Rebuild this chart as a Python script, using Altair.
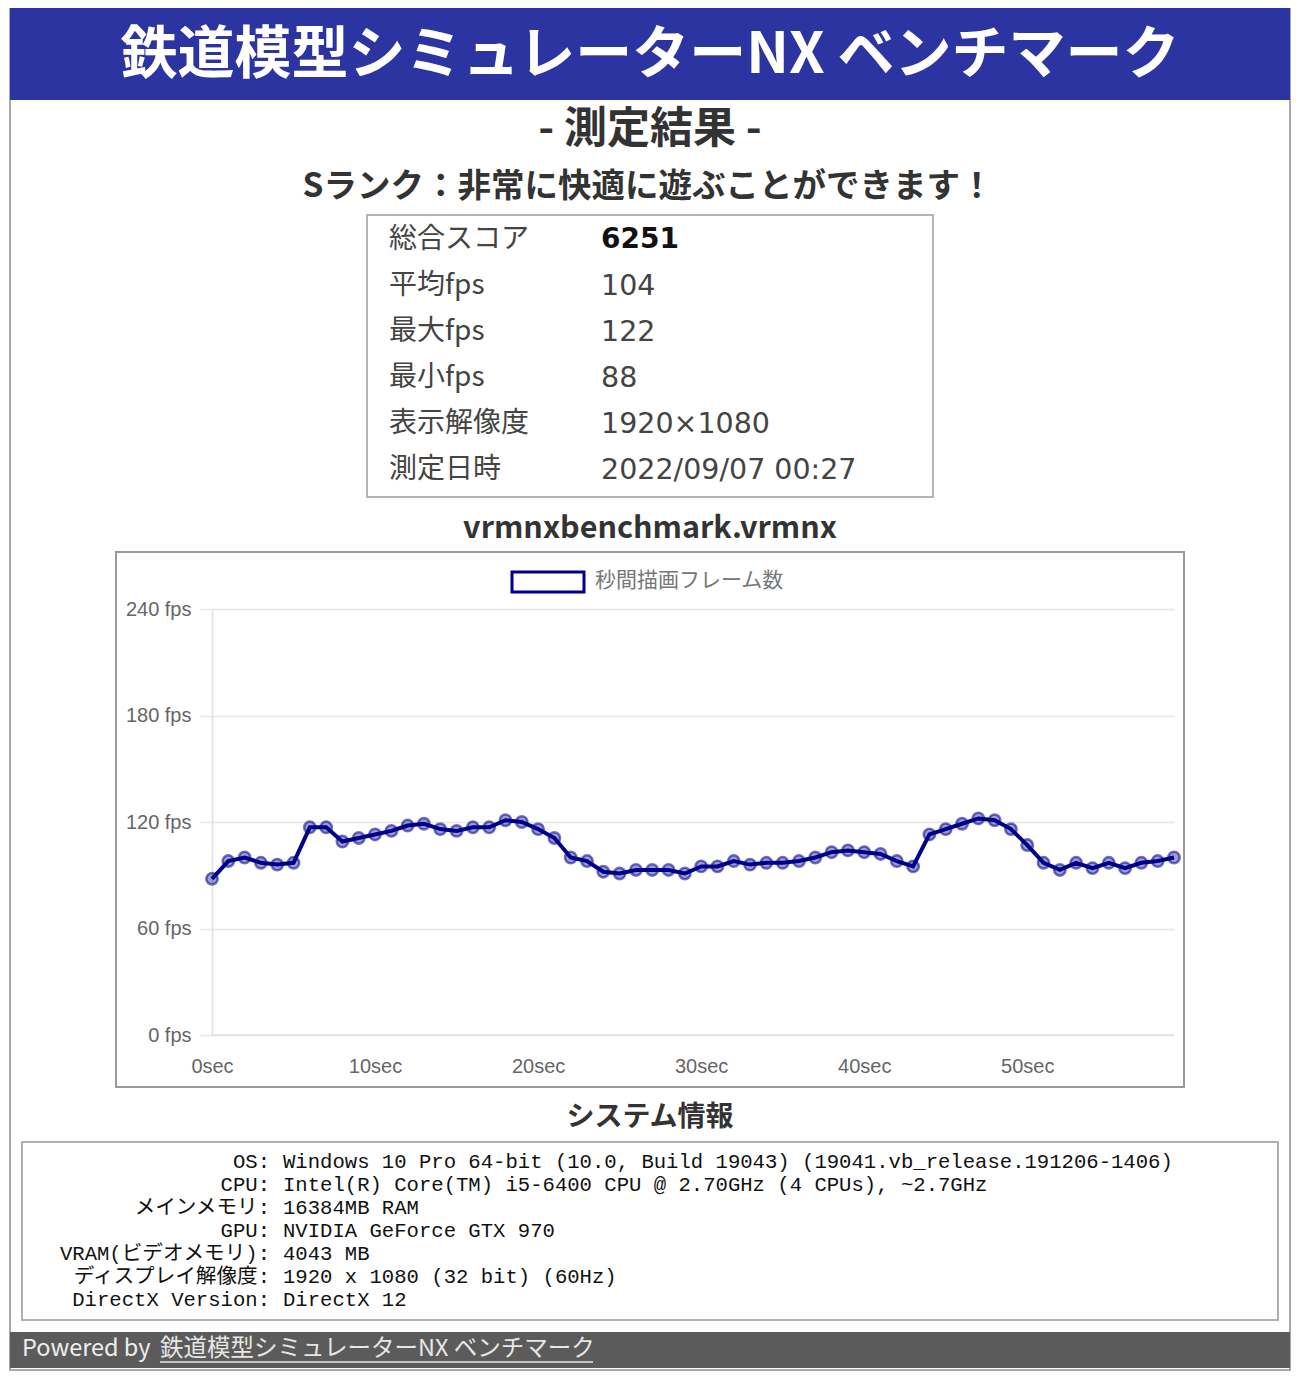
import altair as alt
import pandas as pd

# ---------------- data ----------------
seconds = list(range(60))
fps = [88, 98, 100, 97, 96, 97, 117, 117, 109, 111,
       113, 115, 118, 119, 116, 115, 117, 117, 121, 120,
       116, 111, 100, 98, 92, 91, 93, 93, 93, 91,
       95, 95, 98, 96, 97, 97, 98, 100, 103, 104,
       103, 102, 98, 95, 113, 116, 119, 122, 121, 116,
       107, 97, 93, 97, 94, 97, 94, 97, 98, 100]
y_ticks = [0, 60, 120, 180, 240]
x_ticks = [0, 10, 20, 30, 40, 50]
series_name = "秒間描画フレーム数"

page_title = "鉄道模型シミュレーターNX ベンチマーク"
sub_title = "- 測定結果 -"
rank_text = "Sランク：非常に快適に遊ぶことができます！"
score_labels = ["総合スコア", "平均fps", "最大fps", "最小fps", "表示解像度", "測定日時"]
score_values = ["6251", "104", "122", "88", "1920×1080", "2022/09/07 00:27"]
chart_title = "vrmnxbenchmark.vrmnx"
sys_title = "システム情報"
sys_labels = ["OS:", "CPU:", "メインメモリ:", "GPU:", "VRAM(ビデオメモリ):", "ディスプレイ解像度:", "DirectX Version:"]
sys_values = [
    "Windows 10 Pro 64-bit (10.0, Build 19043) (19041.vb_release.191206-1406)",
    "Intel(R) Core(TM) i5-6400 CPU @ 2.70GHz (4 CPUs), ~2.7GHz",
    "16384MB RAM",
    "NVIDIA GeForce GTX 970",
    "4043 MB",
    "1920 x 1080 (32 bit) (60Hz)",
    "DirectX 12",
]
footer_prefix = "Powered by "
footer_link = "鉄道模型シミュレーターNX ベンチマーク"

df = pd.DataFrame({"t": seconds, "fps": fps})
one = pd.DataFrame({"k": [0]})

# plot-area origin in page coordinates
OX, OY = 212, 609
PW, PH = 962, 426

JP = "Noto Sans CJK JP"
VAL = "DejaVu Sans, Noto Sans CJK JP"
LAT = "Liberation Sans"
MONO = "Liberation Mono, Noto Sans CJK JP"
BLUE = "#00008b"


def box(x1, y1, x2, y2, fill="transparent", stroke=None, sw=0):
    kw = dict(fill=fill)
    if stroke:
        kw.update(stroke=stroke, strokeWidth=sw)
    return alt.Chart(one).mark_rect(**kw).encode(
        x=alt.value(x1 - OX), x2=alt.value(x2 - OX),
        y=alt.value(y1 - OY), y2=alt.value(y2 - OY))


def txt(s, x, y, size, color="#333", weight="normal", align="left", font=JP):
    return alt.Chart(one).mark_text(
        text=s, fontSize=size, color=color, fontWeight=weight,
        align=align, baseline="middle", font=font
    ).encode(x=alt.value(x - OX), y=alt.value(y - OY))


layers = []
# panels and boxes (transparent so the axis grid stays visible)
layers.append(box(10, 8, 1290, 1370, stroke="#a8a8a8", sw=2))
layers.append(box(10, 8, 1290, 100, fill="#2b34a0"))
layers.append(box(367, 215, 933, 497, stroke="#b5b5b5", sw=2))
layers.append(box(116, 552, 1184, 1087, stroke="#9a9a9a", sw=2))
layers.append(box(22, 1142, 1278, 1320, stroke="#b0b0b0", sw=2))
layers.append(box(10, 1332, 1290, 1368, fill="#5b5b5b"))

# headings
layers.append(txt(page_title, 650, 56, 57, color="white", weight="bold", align="center"))
layers.append(txt(sub_title, 650, 130, 43, color="#333", weight="bold", align="center"))
layers.append(txt(rank_text, 648, 187, 33.5, color="#333", weight="bold", align="center"))

# score table
for i, (lab, val) in enumerate(zip(score_labels, score_values)):
    yy = 240 + 46 * i
    layers.append(txt(lab, 389, yy, 28, color="#444"))
    if i == 0:
        layers.append(txt(val, 601, yy, 28, color="#111", weight="bold", font=VAL))
    else:
        layers.append(txt(val, 601, yy, 28.5, color="#444", font=VAL))

layers.append(txt(chart_title, 650, 529, 30.5, color="#333", weight="bold", align="center"))

# legend
layers.append(box(512, 572, 584, 592, fill="white", stroke=BLUE, sw=3))
layers.append(txt(series_name, 595, 581, 21, color="#777"))

# system info
layers.append(txt(sys_title, 650, 1118, 28, color="#333", weight="bold", align="center"))
for i, (lab, val) in enumerate(zip(sys_labels, sys_values)):
    yy = 1162 + 23 * i
    layers.append(txt(lab, 270, yy, 20.6, color="#111", align="right", font=MONO))
    layers.append(txt(val, 283, yy, 20.6, color="#111", font=MONO))

# footer
layers.append(txt(footer_prefix, 22, 1349, 23.5, color="#eeeeee", font=JP))
layers.append(txt(footer_link, 160, 1349, 23.5, color="#e6e6e6", font=JP))
layers.append(alt.Chart(one).mark_rule(color="#e6e6e6", strokeWidth=1.5).encode(
    x=alt.value(160 - OX), x2=alt.value(593 - OX), y=alt.value(1362 - OY)))

# main chart
xenc = alt.X("t:Q", scale=alt.Scale(domain=[0, 59], nice=False, zero=False),
             axis=alt.Axis(values=x_ticks, labelExpr="datum.value + 'sec'", title=None,
                           ticks=False, domain=False, grid=False, labelPadding=21,
                           labelFontSize=20, labelColor="#666", labelFont=LAT,
                           labelFlush=False))
yenc = alt.Y("fps:Q", scale=alt.Scale(domain=[0, 240], nice=False),
             axis=alt.Axis(values=y_ticks, labelExpr="datum.value + ' fps'", title=None,
                           grid=True, gridColor="#e6e6e6", gridWidth=1.5,
                           ticks=True, tickSize=12, tickColor="#e6e6e6", tickWidth=1.5,
                           domain=True, domainColor="#e0e0e0", domainWidth=1.5,
                           labelPadding=9, labelFontSize=20, labelColor="#666",
                           labelFont=LAT))

line = alt.Chart(df).mark_line(color=BLUE, strokeWidth=4).encode(x=xenc, y=yenc)
pts = alt.Chart(df).mark_point(
    filled=True, size=130, fill=BLUE, fillOpacity=0.38,
    stroke=BLUE, strokeOpacity=0.55, strokeWidth=2.5, shape="circle"
).encode(x="t:Q", y="fps:Q")
base_rule = alt.Chart(one).mark_rule(color="#e0e0e0", strokeWidth=1.5).encode(
    x=alt.value(0), x2=alt.value(PW), y=alt.value(PH))

layers += [base_rule, line, pts]

chart = alt.layer(*layers).properties(
    width=PW, height=PH,
    autosize=alt.AutoSizeParams(type="none"),
    padding={"left": OX - 8, "top": OY - 8, "right": 1284 - (OX - 8) - PW,
             "bottom": 1364 - (OY - 8) - PH},
    background="white",
).configure_view(stroke=None)

chart.save("out.html", embed_options={"renderer": "svg", "actions": False})
